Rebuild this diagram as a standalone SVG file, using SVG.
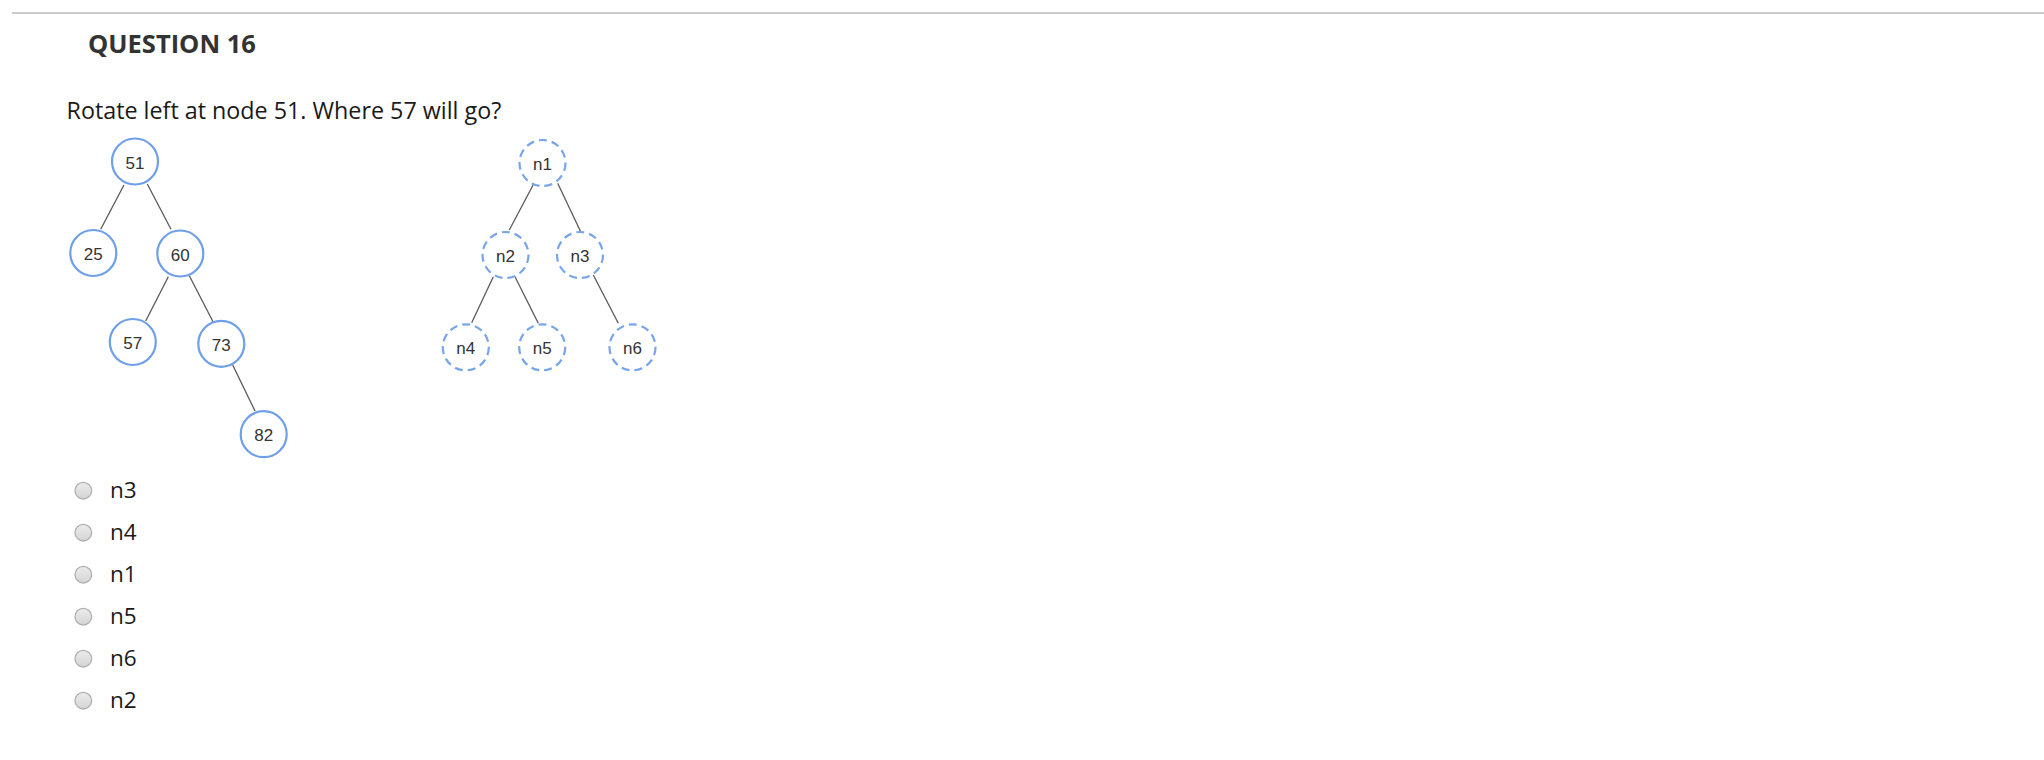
<svg xmlns="http://www.w3.org/2000/svg" width="2044" height="760" viewBox="0 0 2044 760">
<style>
.title{font-family:"Open Sans","Liberation Sans",sans-serif;font-weight:700;font-size:25.5px;fill:#333}
.q{font-family:"Open Sans","Liberation Sans",sans-serif;font-size:23.3px;fill:#1a1a1a}
.opt{font-family:"Open Sans","Liberation Sans",sans-serif;font-size:22.5px;fill:#1a1a1a}
.solid{fill:#fff;stroke:#6f9fe8;stroke-width:2.2}
.dash{fill:#fff;stroke:#78a5ea;stroke-width:2.2;stroke-dasharray:8 5}
.lbl{font-family:"Liberation Sans",Arial,sans-serif;font-size:17px;fill:#333;text-anchor:middle}
.edge{stroke:#5a5a5a;stroke-width:1.3;fill:none}
.radio{fill:url(#rg);stroke:#b0b0b0;stroke-width:1.3}
</style>
<defs>
<linearGradient id="rg" x1="0" y1="0" x2="0" y2="1">
<stop offset="0" stop-color="#ececec"/>
<stop offset="1" stop-color="#d4d4d4"/>
</linearGradient>
</defs>
<rect width="2044" height="760" fill="#fff"/>
<line x1="12" y1="13" x2="2044" y2="13" stroke="#cccccc" stroke-width="2"/>
<text class="title" x="88" y="52.7">QUESTION 16</text>
<text class="q" x="66.5" y="119.3">Rotate left at node 51. Where 57 will go?</text>

<g id="connectors">
<line class="edge" x1="124" y1="185" x2="100.7" y2="229.3"/>
<line class="edge" x1="147.3" y1="184" x2="171" y2="229.3"/>
<line class="edge" x1="168.3" y1="276.7" x2="145.7" y2="321"/>
<line class="edge" x1="189.3" y1="275.7" x2="213.3" y2="322.3"/>
<line class="edge" x1="232.7" y1="365" x2="255" y2="411"/>
<line class="edge" x1="534" y1="183.3" x2="509.3" y2="230"/>
<line class="edge" x1="557.7" y1="183.3" x2="580.7" y2="231.7"/>
<line class="edge" x1="493.3" y1="276.7" x2="471.7" y2="322.7"/>
<line class="edge" x1="515" y1="276.7" x2="538.3" y2="323.3"/>
<line class="edge" x1="593.3" y1="275" x2="618.3" y2="323.3"/>
</g>

<g id="node-51"><circle class="solid" cx="135" cy="161.5" r="23"/><text class="lbl" x="135" y="168.5">51</text></g>
<g id="node-25"><circle class="solid" cx="93.3" cy="253" r="23"/><text class="lbl" x="93.3" y="260">25</text></g>
<g id="node-60"><circle class="solid" cx="180.3" cy="253.5" r="23"/><text class="lbl" x="180.3" y="260.5">60</text></g>
<g id="node-57"><circle class="solid" cx="132.8" cy="342" r="23"/><text class="lbl" x="132.8" y="349">57</text></g>
<g id="node-73"><circle class="solid" cx="221.3" cy="343.8" r="23"/><text class="lbl" x="221.3" y="350.8">73</text></g>
<g id="node-82"><circle class="solid" cx="263.7" cy="434.2" r="23"/><text class="lbl" x="263.7" y="441.2">82</text></g>

<g id="node-n1"><circle class="dash" cx="542.5" cy="163" r="23"/><text class="lbl" x="542.5" y="169.5">n1</text></g>
<g id="node-n2"><circle class="dash" cx="505.5" cy="255" r="23"/><text class="lbl" x="505.5" y="261.5">n2</text></g>
<g id="node-n3"><circle class="dash" cx="580" cy="255" r="23"/><text class="lbl" x="580" y="261.5">n3</text></g>
<g id="node-n4"><circle class="dash" cx="465.8" cy="347.3" r="23"/><text class="lbl" x="465.8" y="353.8">n4</text></g>
<g id="node-n5"><circle class="dash" cx="542.2" cy="347.3" r="23"/><text class="lbl" x="542.2" y="353.8">n5</text></g>
<g id="node-n6"><circle class="dash" cx="632.5" cy="347.3" r="23"/><text class="lbl" x="632.5" y="353.8">n6</text></g>

<g id="options">
<circle class="radio" cx="83.3" cy="490.7" r="8.3"/><text class="opt" x="110" y="497.5">n3</text>
<circle class="radio" cx="83.3" cy="532.7" r="8.3"/><text class="opt" x="110" y="539.5">n4</text>
<circle class="radio" cx="83.3" cy="574.7" r="8.3"/><text class="opt" x="110" y="581.5">n1</text>
<circle class="radio" cx="83.3" cy="616.7" r="8.3"/><text class="opt" x="110" y="623.5">n5</text>
<circle class="radio" cx="83.3" cy="658.7" r="8.3"/><text class="opt" x="110" y="665.5">n6</text>
<circle class="radio" cx="83.3" cy="700.7" r="8.3"/><text class="opt" x="110" y="707.5">n2</text>
</g>
</svg>
